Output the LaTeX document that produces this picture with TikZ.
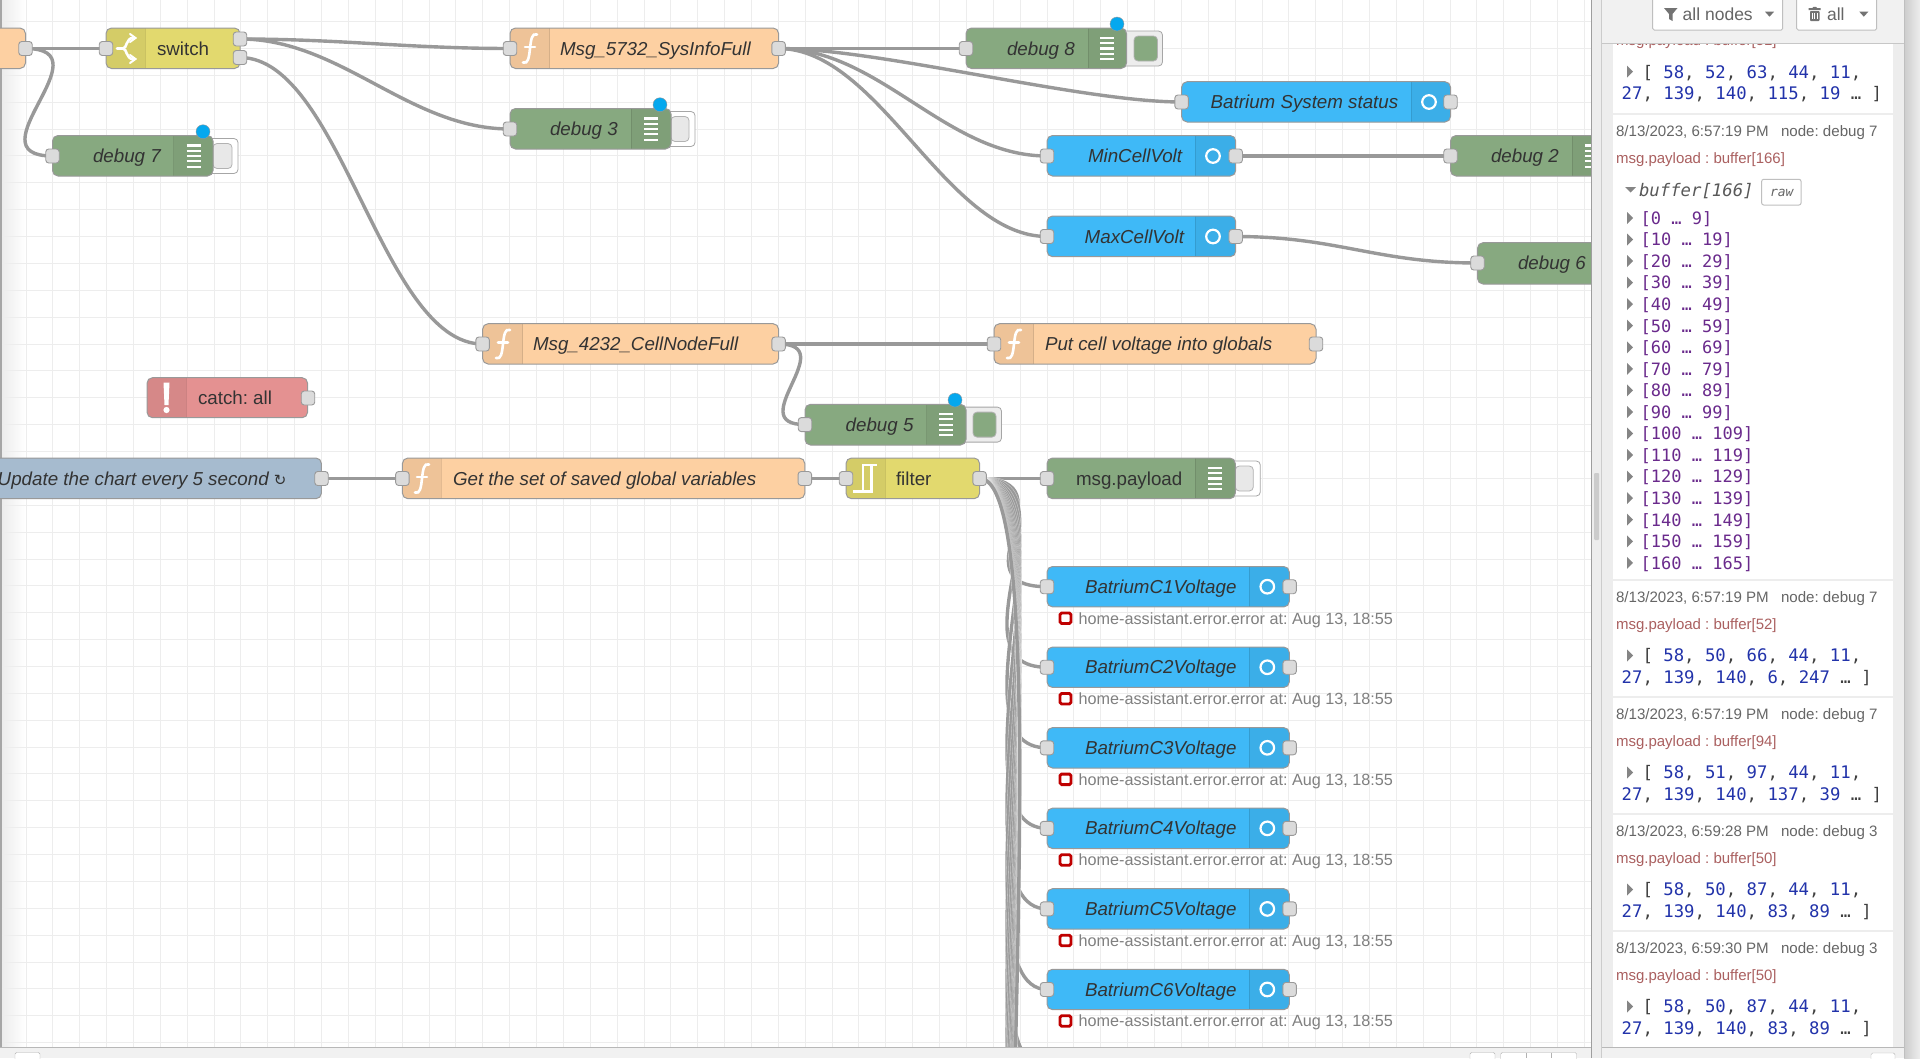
\documentclass[tikz,border=0pt]{standalone}
\usepackage{fontspec}
\setmainfont{Liberation Sans}
\newfontfamily\dmono{DejaVu Sans Mono}
\newfontfamily\djv{DejaVu Sans}
\AtBeginDocument{\frenchspacing}
\definecolor{cFn}{HTML}{FDD0A2}
\definecolor{cDbg}{HTML}{87A980}
\definecolor{cBlue}{HTML}{3FB9F7}
\definecolor{cSw}{HTML}{E2D96E}
\definecolor{cCatch}{HTML}{E49191}
\definecolor{cInj}{HTML}{A6BBCF}
\definecolor{cGrid}{HTML}{EDEDED}
\definecolor{cWire}{HTML}{999999}
\definecolor{cNum}{HTML}{2233AA}
\definecolor{cPur}{HTML}{6A2A8C}
\definecolor{cMsg}{HTML}{AA6060}
\definecolor{cSide}{HTML}{F1F1F1}
\definecolor{cDot}{HTML}{05A8EE}
\newcount\tc
\newcommand{\lbl}[3][]{\global\advance\tc by 1 \node[tx,#1] (t\the\tc) at (#2) {#3};}
\newcommand{\nn}[1]{\textcolor{cNum}{#1}}
\newcommand{\nrbox}[7]{%
  \pgfmathsetmacro\bw{#4-#2}\pgfmathsetmacro\bh{#5-#3}%
  \pgfmathsetmacro\bx{(#2+#4)/2}\pgfmathsetmacro\by{(#3+#5)/2}%
  \node[nrbody,fill=#6,minimum width=\bw pt,minimum height=\bh pt] (#1) at (\bx,\by) {};
  \begin{scope}
    \clip[rounded corners=5.5pt] (#2,#3) rectangle (#4,#5);
    \ifdim #7pt<\bx pt
      \fill[black,opacity=.06] (#2,#3) rectangle (#7,#5);
    \else
      \fill[black,opacity=.06] (#7,#3) rectangle (#4,#5);
    \fi
    \draw[black,opacity=.1,line width=1pt] (#7,#3) -- (#7,#5);
  \end{scope}
  \draw[cWire,line width=1pt,rounded corners=5.5pt] (#2,#3) rectangle (#4,#5);
}
\newcommand{\ficon}[2]{%
  \begin{scope}[shift={(#1,#2)}]
    \draw[icon] (7,-14) .. controls (2,-16) and (1,-9) .. (0,0) .. controls (-1,9) and (-2,16) .. (-7,14);
    \draw[icon] (-5,-1.5) -- (5,-1.5);
  \end{scope}}
\newcommand{\dbgicon}[2]{%
  \begin{scope}[shift={(#1,#2)}]
    \foreach \q in {-10.6,-5.3,0,5.3,10.6}{\draw[white,line width=2.2pt] (-7,\q) -- (7,\q);}
  \end{scope}}
\newcommand{\ring}[2]{\draw[white,line width=2.2pt] (#1,#2) circle (6.8pt);}
\newcommand{\nrbtn}[7]{% xr cy outer innerfrom innerto fill outerfill
  \draw[black!35,line width=.8pt,fill=#7,rounded corners=4pt] ({#1-8},{#2-17.5}) rectangle ({#1+#3},{#2+17.5});
  \draw[black!30,line width=.8pt,fill=#6,rounded corners=4pt] ({#1+#4},{#2-12.5}) rectangle ({#1+#5},{#2+12.5});
}
\newcommand{\bdot}[2]{\fill[draw=black!40,line width=.4pt,fill=cDot] (#1,#2) circle (7pt);}
\newcommand{\tri}[2]{\fill[black!48] (#1,{#2-6}) -- ({#1+6},#2) -- (#1,{#2+6}) -- cycle;}
\newcommand{\hdr}[3]{%
  \lbl[grey]{1616,#1+5.3}{#2}\lbl[grey]{1781,#1+5.3}{node: #3}}
\newcommand{\msgl}[2]{\lbl[msgc]{1616,#1+5.3}{msg.payload : #2}}
\newcommand{\arrl}[4]{%
  \tri{1627}{#1}
  \lbl[monoc]{1642.5,#1+6.3}{[ #3}
  \lbl[monoc]{1621.7,#2+6.3}{#4}}
\newcommand{\rng}[2]{%
  \tri{1627}{#1}
  \lbl[monoc,text=cPur,font=\fontsize{17}{20}\selectfont\dmono]{1640.7,#1+6.3}{#2}}
\begin{document}
\begin{tikzpicture}[x=1pt,y=-1pt,
  tx/.style={inner sep=0pt,outer sep=0pt,anchor=base west,text=black!80,font=\fontsize{18.75}{22}\selectfont},
  itx/.style={font=\fontsize{18.75}{22}\selectfont\itshape},
  nrbody/.style={rectangle,rounded corners=5.5pt,inner sep=0pt,outer sep=0pt,draw=none},
  portbox/.style={rectangle,rounded corners=3pt,draw=cWire,line width=.9pt,fill=black!14,minimum width=13.5pt,minimum height=14pt,inner sep=0pt},
  wirecore/.style={draw=cWire,line width=3.4pt},
  wirecase/.style={draw=white,opacity=.45,line width=4.6pt},
  gridline/.style={draw=cGrid,line width=1pt},
  icon/.style={draw=white,line width=2.6pt,line cap=round},
  stat/.style={font=\fontsize{16.2}{20}\selectfont,text=black!50},
  grey/.style={font=\fontsize{15.1}{18}\selectfont,text=black!60},
  msgc/.style={font=\fontsize{15}{18}\selectfont,text=cMsg},
  monoc/.style={font=\fontsize{17.3}{20}\selectfont\dmono,text=black!75},
  ]
\useasboundingbox (0,0) rectangle (1920,1058);
\clip (0,0) rectangle (1920,1058);
\fill[white] (0,0) rectangle (1920,1058);

% ports as coordinates
\coordinate (stubOut) at (25.5,48.5);
\coordinate (swIn) at (106,48.5);
\coordinate (swA) at (240,39);
\coordinate (swB) at (240,57.5);
\coordinate (dbg7In) at (52.5,156);
\coordinate (sysIn) at (510,48.5);
\coordinate (sysOut) at (778.6,48.5);
\coordinate (dbg3In) at (510,129);
\coordinate (cellIn) at (482.6,344);
\coordinate (cellOut) at (778.6,344);
\coordinate (dbg8In) at (966,48.5);
\coordinate (statIn) at (1181.6,102);
\coordinate (statOut) at (1450.5,102);
\coordinate (minIn) at (1047,156);
\coordinate (minOut) at (1235.7,156);
\coordinate (maxIn) at (1047,236.5);
\coordinate (maxOut) at (1235.7,236.5);
\coordinate (dbg2In) at (1450.5,156);
\coordinate (dbg6In) at (1477.5,263);
\coordinate (putIn) at (994,344);
\coordinate (putOut) at (1316,344);
\coordinate (dbg5In) at (805,424.6);
\coordinate (catchOut) at (308,398);
\coordinate (injOut) at (321.5,478.5);
\coordinate (getIn) at (402.4,478.5);
\coordinate (getOut) at (804.8,478.5);
\coordinate (filIn) at (846,478.5);
\coordinate (filOut) at (979.6,478.5);
\coordinate (payIn) at (1047,478.5);

\begin{scope}
\clip (0,0) rectangle (1591,1047);
% canvas shadow and grid
\shade[left color=black!8,right color=white] (0,0) rectangle (25,1047);
\foreach \k in {0,...,58}{\pgfmathsetmacro\gx{26+\k*26.87}\draw[gridline] (\gx,0) -- (\gx,1047);}
\foreach \k in {0,...,38}{\pgfmathsetmacro\gy{21.6+\k*26.87}\draw[gridline] (0,\gy) -- (1591,\gy);}
\fill[black!35] (0,0) rectangle (1.5,1047);

% wires
\newcommand{\wire}[3]{\draw[wirecore] (#1) .. controls +(#3,0) and +(-#3,0) .. (#2);}
\wire{stubOut}{swIn}{60}
\wire{stubOut}{dbg7In}{83}
\wire{swA}{sysIn}{101}
\wire{swA}{dbg3In}{101}
\wire{swB}{cellIn}{101}
\wire{sysOut}{dbg8In}{101}
\wire{sysOut}{statIn}{101}
\wire{sysOut}{minIn}{101}
\wire{sysOut}{maxIn}{101}
\wire{minOut}{dbg2In}{101}
\wire{maxOut}{dbg6In}{101}
\wire{cellOut}{putIn}{101}
\wire{cellOut}{dbg5In}{63.5}
\wire{injOut}{getIn}{60}
\wire{getOut}{filIn}{30}
\wire{filOut}{payIn}{50}
\foreach \k in {1,...,16}{
  \pgfmathsetmacro\yy{586.7+(\k-1)*80.55}
  \coordinate (cin\k) at (1047,\yy);
  \ifnum\k=1 \def\dd{95}\else\def\dd{101}\fi
  \draw[wirecase] (filOut) .. controls +(\dd,0) and +(-\dd,0) .. (cin\k);
  \draw[wirecore] (filOut) .. controls +(\dd,0) and +(-\dd,0) .. (cin\k);
}

% debug buttons (behind bodies)
\nrbtn{213}{156}{25}{0}{19}{black!9}{white}
\nrbtn{671}{129}{24}{0}{18}{black!9}{white}
\nrbtn{1235.3}{478.5}{25}{0}{18}{black!9}{white}
\nrbtn{1126.5}{48.5}{36}{7.5}{31}{cDbg}{black!7}
\nrbtn{966}{424.6}{35.5}{7}{30}{cDbg}{black!7}

% node bodies
\nrbox{stub}{-20}{28}{25.5}{68.5}{cFn}{-10}
\nrbox{sw}{106}{28}{240}{68.5}{cSw}{145}
\nrbox{sys}{510}{28}{778.6}{68.5}{cFn}{549.5}
\nrbox{dbg3}{510}{108.5}{671}{149}{cDbg}{631}
\nrbox{dbg7}{52.5}{135.5}{213}{176}{cDbg}{173.5}
\nrbox{dbg8}{966}{28}{1126.5}{68.5}{cDbg}{1088}
\nrbox{stat}{1181.6}{81.7}{1450.5}{122}{cBlue}{1411}
\nrbox{min}{1047}{135.5}{1235.7}{176}{cBlue}{1195.4}
\nrbox{max}{1047}{216}{1235.7}{256.7}{cBlue}{1195.4}
\nrbox{dbgB}{1450.5}{135.5}{1612}{176}{cDbg}{1572}
\nrbox{dbgF}{1477.5}{242.7}{1640}{284}{cDbg}{1600}
\nrbox{cell}{482.6}{323.7}{778.6}{364}{cFn}{522.5}
\nrbox{put}{994}{323.7}{1316}{364}{cFn}{1033.7}
\nrbox{catch}{147}{377.7}{307.6}{417.7}{cCatch}{186}
\nrbox{dbg5}{805}{404.3}{966}{445}{cDbg}{926.7}
\nrbox{inj}{-20}{458}{321.4}{498.7}{cInj}{330}
\nrbox{get}{402.4}{458}{804.8}{498.7}{cFn}{441}
\nrbox{fil}{846}{458}{979.6}{498.7}{cSw}{885}
\nrbox{pay}{1047}{458}{1235.3}{498.7}{cDbg}{1195}

% icons
\ficon{530}{48.5}
\ficon{503}{344}
\ficon{1014}{344}
\ficon{422}{478.5}
\dbgicon{651}{129}
\dbgicon{193.5}{156}
\dbgicon{1107}{48.5}
\dbgicon{1592}{156}
\dbgicon{946}{424.6}
\dbgicon{1215}{478.5}
\ring{1429}{102}
\ring{1213}{156}
\ring{1213}{236.5}
% switch icon
\draw[icon] (117,48.5) -- (123,48.5) .. controls (127,48.5) and (126,38) .. (133,38);
\draw[icon] (123,48.5) .. controls (127,48.5) and (126,59) .. (133,59);
\draw[icon,line width=2pt] (130,34) -- (135.5,38) -- (130,42);
\draw[icon,line width=2pt] (130,55) -- (135.5,59) -- (130,63);
% filter icon
\draw[icon,line cap=butt,line join=miter] (853,491.5) -- (863,491.5) -- (863,465) -- (877,465);
\draw[icon,line cap=butt,line join=miter] (853,491.5) -- (871.5,491.5) -- (871.5,465);
% catch icon
\fill[white] (163.5,382.5) -- (169.5,382.5) -- (168.5,405) -- (164.5,405) -- cycle;
\fill[white] (166.5,410) circle (3.1pt);
% dots
\bdot{660}{104.7}
\bdot{203}{131.7}
\bdot{1117}{24}
\bdot{955}{400}

% labels
\lbl{157,55.1}{switch}
\lbl[itx]{560,55.1}{Msg\_5732\_SysInfoFull}
\lbl[itx]{550,135.6}{debug 3}
\lbl[itx]{93,162.6}{debug 7}
\lbl[itx]{1007,55.1}{debug 8}
\lbl[itx]{1210.7,108.6}{Batrium System status}
\lbl[itx]{1088,162.6}{MinCellVolt}
\lbl[itx]{1084.7,243.1}{MaxCellVolt}
\lbl[itx]{1491,162.6}{debug 2}
\lbl[itx]{1518,269.6}{debug 6}
\lbl[itx]{533,350.6}{Msg\_4232\_CellNodeFull}
\lbl[itx]{1045,350.6}{Put cell voltage into globals}
\lbl{198,404.6}{catch: all}
\lbl[itx]{845.7,431.2}{debug 5}
\lbl[itx,anchor=base east]{286.5,485.1}{Update the chart every 5 second {\djv\upshape\fontsize{15}{15}\selectfont ↻}}
\lbl[itx]{453,485.1}{Get the set of saved global variables}
\lbl{896,485.1}{filter}
\lbl{1076,485.1}{msg.payload}

% battery nodes
\foreach \k in {1,...,6}{
  \pgfmathsetmacro\cy{586.7+(\k-1)*80.55}
  \pgfmathsetmacro\ya{\cy-20.2}
  \pgfmathsetmacro\yb{\cy+20.2}
  \nrbox{cbox\k}{1047}{\ya}{1289.3}{\yb}{cBlue}{1249.3}
  \ring{1267.3}{\cy}
  \lbl[itx]{1085,\cy+6.6}{BatriumC\k Voltage}
  \node[portbox] (cport\k) at (cin\k) {};
  \node[portbox] (coutport\k) at (1289.6,\cy) {};
  \draw[red!75!black,line width=2.8pt,fill=white,rounded corners=1.6pt] (1060,\cy+26.3) rectangle (1071,\cy+36.8);
  \lbl[stat]{1078.7,\cy+37.4}{home-assistant.error.error at: Aug 13, 18:55}
}

% ports
\foreach \p in {stubOut,swIn,swA,swB,dbg7In,sysIn,sysOut,dbg3In,cellIn,cellOut,dbg8In,statIn,statOut,minIn,minOut,maxIn,maxOut,dbg2In,dbg6In,putIn,putOut,dbg5In,catchOut,injOut,getIn,getOut,filIn,filOut,payIn}{
  \node[portbox] (\p-port) at (\p) {};
}
\end{scope}

% workspace footer
\fill[cSide] (0,1047.5) rectangle (1592,1058);
\draw[black!28,line width=1.4pt] (0,1047.5) -- (1592,1047.5);
\draw[black!30,fill=white,rounded corners=1.5pt] (15,1052.5) rectangle (40,1066);
\draw[black!30,fill=white,rounded corners=1.5pt] (1470,1052.5) rectangle (1495,1066);
\draw[black!30,fill=white,rounded corners=1.5pt] (1500.7,1052.5) rectangle (1576.7,1066);
\draw[black!30] (1526,1052.5) -- (1526,1058);
\draw[black!30] (1551,1052.5) -- (1551,1058);

% separator
\fill[black!7] (1591,0) rectangle (1602,1058);
\draw[black!38,line width=1.2pt] (1591.3,0) -- (1591.3,1058);
\draw[black!20,line width=1pt] (1601.5,0) -- (1601.5,1058);
\fill[black!20,rounded corners=1pt] (1594,473) rectangle (1599,540);

% sidebar
\fill[cSide] (1602,0) rectangle (1904,1058);
\shade[left color=black!20,right color=black!7] (1904,0) rectangle (1920,1058);
\draw[black!25,line width=1pt] (1904,0) -- (1904,1058);
\fill[black!7] (1602,44) rectangle (1904,1047);
\draw[black!22,line width=1pt] (1602,43.2) -- (1904,43.2);
\fill[white] (1613.3,44) rectangle (1893,113);
\fill[white] (1613.3,115) rectangle (1893,578.5);
\fill[white] (1613.3,580.5) rectangle (1893,695.5);
\fill[white] (1613.3,697.5) rectangle (1893,813);
\fill[white] (1613.3,815) rectangle (1893,930);
\fill[white] (1613.3,932) rectangle (1893,1047);
\fill[cSide] (1602,1048) rectangle (1904,1058);
\draw[black!28,line width=1.4pt] (1602,1047.5) -- (1904,1047.5);
\draw[black!30,fill=white,rounded corners=1.5pt] (1871,1053) rectangle (1895,1066);

% toolbar
\draw[black!25,fill=white,line width=1pt,rounded corners=1.5pt] (1652.7,-6) rectangle (1782.7,30);
\draw[black!25,fill=white,line width=1pt,rounded corners=1.5pt] (1796.7,-6) rectangle (1876.7,30);
\fill[black!55] (1664,8) -- (1677.5,8) -- (1672.5,14) -- (1672.5,21) -- (1669,19) -- (1669,14) -- cycle;
\fill[black!55] (1808.7,10) -- (1820.7,10) -- (1820.7,8) -- (1817,8) -- (1816,6.8) -- (1813.4,6.8) -- (1812.4,8) -- (1808.7,8) -- cycle;
\fill[black!55,rounded corners=.8pt] (1810,11) rectangle (1819.5,21);
\foreach \q in {1812.3,1814.6,1816.9}{\draw[white,line width=.8pt] (\q,13) -- (\q,19);}
\fill[black!55] (1765,11.7) -- (1774,11.7) -- (1769.5,16.7) -- cycle;
\fill[black!55] (1859.3,11.7) -- (1868.3,11.7) -- (1863.8,16.7) -- cycle;
\lbl[text=black!60,font=\fontsize{17.5}{20}\selectfont]{1682.7,20}{all nodes}
\lbl[text=black!60,font=\fontsize{17.5}{20}\selectfont]{1827,20}{all}

% row 1 (cut off by the toolbar)
\begin{scope}
  \clip (1613,44) rectangle (1893,60);
  \lbl[msgc]{1616,45.3}{msg.payload : buffer[51]}
\end{scope}
\arrl{71.7}{92.7}{\nn{58}, \nn{52}, \nn{63}, \nn{44}, \nn{11},}{\nn{27}, \nn{139}, \nn{140}, \nn{115}, \nn{19} … ]}

% row 2
\hdr{130.7}{8/13/2023, 6:57:19 PM}{debug 7}
\msgl{157.7}{buffer[166]}
\fill[black!48] (1625,187) -- (1636,187) -- (1630.5,192.5) -- cycle;
\lbl[monoc,text=black!65,font=\fontsize{17.3}{20}\selectfont\dmono\itshape]{1639,196.3}{buffer[166]}
\draw[black!25,line width=1pt,fill=white,rounded corners=2pt] (1761.7,179.3) rectangle (1801,205);
\lbl[text=black!60,font=\fontsize{13}{16}\selectfont\dmono\itshape]{1770,196.5}{raw}
\rng{218}{[0 … 9]}
\rng{239.5}{[10 … 19]}
\rng{261}{[20 … 29]}
\rng{282.6}{[30 … 39]}
\rng{304.2}{[40 … 49]}
\rng{325.7}{[50 … 59]}
\rng{347.3}{[60 … 69]}
\rng{368.8}{[70 … 79]}
\rng{390.4}{[80 … 89]}
\rng{412}{[90 … 99]}
\rng{433.5}{[100 … 109]}
\rng{455}{[110 … 119]}
\rng{476.6}{[120 … 129]}
\rng{498.2}{[130 … 139]}
\rng{519.7}{[140 … 149]}
\rng{541.3}{[150 … 159]}
\rng{562.8}{[160 … 165]}

% row 3
\hdr{597.2}{8/13/2023, 6:57:19 PM}{debug 7}
\msgl{624.5}{buffer[52]}
\arrl{655.5}{677}{\nn{58}, \nn{50}, \nn{66}, \nn{44}, \nn{11},}{\nn{27}, \nn{139}, \nn{140}, \nn{6}, \nn{247} … ]}
% row 4
\hdr{714.3}{8/13/2023, 6:57:19 PM}{debug 7}
\msgl{741.5}{buffer[94]}
\arrl{772.5}{794}{\nn{58}, \nn{51}, \nn{97}, \nn{44}, \nn{11},}{\nn{27}, \nn{139}, \nn{140}, \nn{137}, \nn{39} … ]}
% row 5
\hdr{831.4}{8/13/2023, 6:59:28 PM}{debug 3}
\msgl{858.5}{buffer[50]}
\arrl{889.5}{911}{\nn{58}, \nn{50}, \nn{87}, \nn{44}, \nn{11},}{\nn{27}, \nn{139}, \nn{140}, \nn{83}, \nn{89} … ]}
% row 6
\hdr{948.5}{8/13/2023, 6:59:30 PM}{debug 3}
\msgl{975.5}{buffer[50]}
\arrl{1006.5}{1028}{\nn{58}, \nn{50}, \nn{87}, \nn{44}, \nn{11},}{\nn{27}, \nn{139}, \nn{140}, \nn{83}, \nn{89} … ]}
\end{tikzpicture}
\end{document}
